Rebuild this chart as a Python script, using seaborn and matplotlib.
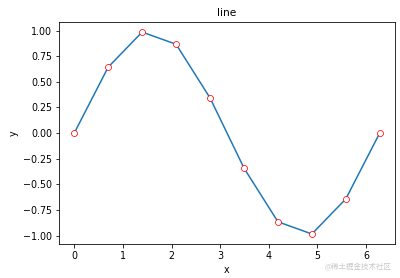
import matplotlib
matplotlib.use("Agg")
import matplotlib.pyplot as plt
import seaborn as sns
import pandas as pd

x_vals = [0.0, 0.698, 1.396, 2.094, 2.793, 3.491, 4.189, 4.887, 5.585, 6.283]
y_vals = [0.0, 0.643, 0.985, 0.866, 0.342, -0.342, -0.866, -0.985, -0.643, 0.0]

sns.set_style("ticks", {"text.color": "black", "axes.labelcolor": "black",
                        "xtick.color": "black", "ytick.color": "black",
                        "axes.edgecolor": "black"})
plt.rcParams['font.family'] = ['DejaVu Sans', 'Noto Sans CJK SC']
plt.rcParams['font.size'] = 10

df = pd.DataFrame({"x": x_vals, "y": y_vals})
fig = plt.figure(figsize=(400/72, 278/72), dpi=72)
ax = fig.add_axes([0.1475, 0.122, 0.84, 0.799])
sns.lineplot(data=df, x="x", y="y", ax=ax, color="#1f77b4", marker="o",
             markerfacecolor="white", markeredgecolor="red", markersize=6, linewidth=1.5)
ax.set_title("line", fontsize=10.5)
ax.set_xlabel("x", fontsize=9.5)
ax.set_ylabel("y", fontsize=9.5)
ax.set_yticks([-1.0, -0.75, -0.5, -0.25, 0.0, 0.25, 0.5, 0.75, 1.0])
ax.tick_params(labelsize=9.5)
fig.text(0.98, 0.04, "@稀土掘金技术社区", ha="right", va="center", fontsize=7.5,
         color="#c8c8c8", family=['Noto Sans CJK SC', 'DejaVu Sans'])
fig.savefig("out.png", dpi=72)
